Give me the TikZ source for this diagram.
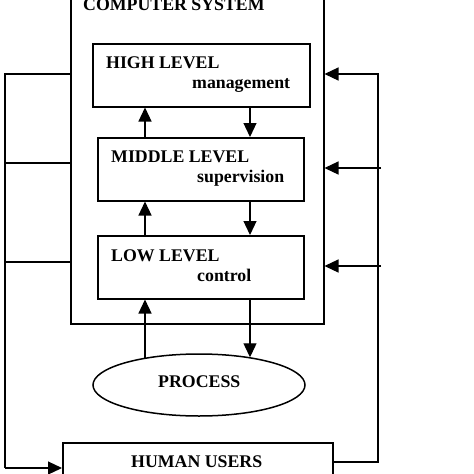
\documentclass[tikz,border=0pt]{standalone}
\usepackage{fontspec}
\setmainfont{Liberation Serif}
\usetikzlibrary{arrows.meta,shapes.geometric}
\begin{document}
\begin{tikzpicture}[x=1pt,y=-1pt,
  box/.style={draw,line width=1.5pt,rectangle,inner sep=0pt,anchor=north west},
  lbl/.style={inner sep=0pt,anchor=base west,font=\bfseries\fontsize{17.8}{20}\selectfont},
  conn/.style={line width=1.2pt},
  arr/.style={line width=1.2pt,-{Triangle[length=14pt,width=13pt]}}]
\useasboundingbox (0,0) rectangle (474,474);
\clip (0,0) rectangle (474,474);
% boxes
\node[box,minimum width=253pt,minimum height=340pt] (outer) at (70,-17) {};
\node[box,minimum width=217pt,minimum height=63pt] (high) at (92,43) {};
\node[box,minimum width=206pt,minimum height=63pt] (middle) at (97,137) {};
\node[box,minimum width=206pt,minimum height=63pt] (low) at (97,235) {};
\node[box,minimum width=270pt,minimum height=60pt] (human) at (62,442) {};
\node[draw,line width=1.5pt,ellipse,inner sep=0pt,minimum width=212pt,minimum height=62pt] (process) at (199,385) {};
% labels
\node[lbl] (tcs) at (83,10) {COMPUTER SYSTEM};
\node[lbl] (th1) at (106,68) {HIGH LEVEL};
\node[lbl] (th2) at (192,88) {management};
\node[lbl] (tm1) at (111,162) {MIDDLE LEVEL};
\node[lbl] (tm2) at (197,182) {supervision};
\node[lbl] (tl1) at (111,261) {LOW LEVEL};
\node[lbl] (tl2) at (197,281) {control};
\node[lbl] (tp) at (158,387) {PROCESS};
\node[lbl] (tu) at (131,467) {HUMAN USERS};
% x positions of vertical arrows
\coordinate (xu) at (145,0);
\coordinate (xd) at (250,0);
\draw[arr] (middle.north -| xu) -- (high.south -| xu);
\draw[arr] (high.south -| xd) -- (middle.north -| xd);
\draw[arr] (low.north -| xu) -- (middle.south -| xu);
\draw[arr] (middle.south -| xd) -- (low.north -| xd);
\draw[arr] (process.153.7 -| xu) -- (low.south -| xu);
\draw[arr] (low.south -| xd) -- (process.28 -| xd);
% left feedback rail
\coordinate (L1) at (5,74);
\coordinate (L2) at (5,163);
\coordinate (L3) at (5,262);
\coordinate (L4) at (5,468);
\draw[conn] (outer.west |- L1) -- (L1) -- (L4);
\draw[conn] (outer.west |- L2) -- (L2);
\draw[conn] (outer.west |- L3) -- (L3);
\draw[arr] (L4) -- (human.west |- L4);
% right feedback rail
\coordinate (R1) at (378,74);
\coordinate (R2) at (381,168);
\coordinate (R3) at (381,266);
\coordinate (R4) at (378,462);
\draw[arr] (human.east |- R4) -- (R4) -- (R1) -- (outer.east |- R1);
\draw[arr] (R2) -- (outer.east |- R2);
\draw[arr] (R3) -- (outer.east |- R3);
\end{tikzpicture}
\end{document}
